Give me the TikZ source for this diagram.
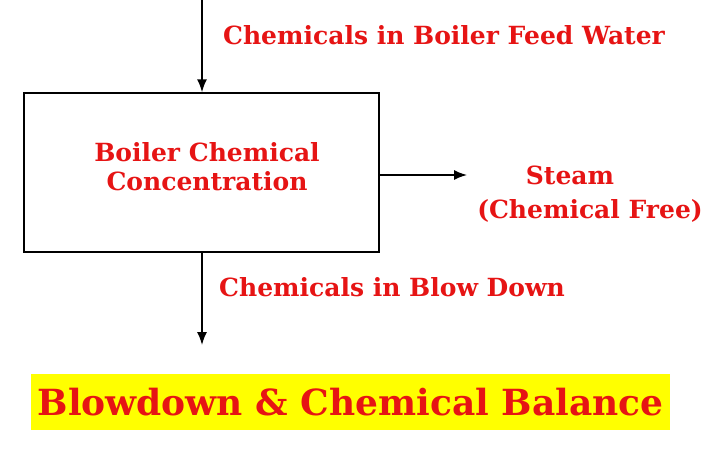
\documentclass[tikz,border=0pt]{standalone}
\usepackage{fontspec}
\setmainfont{DejaVu Serif}
\usetikzlibrary{positioning,arrows.meta}
\definecolor{txtred}{RGB}{230,20,20}
\definecolor{banner}{RGB}{255,255,0}
\tikzset{label text/.style={text=txtred, font=\bfseries\fontsize{25}{29}\selectfont, align=center, inner sep=0pt},
flow/.style={-{Latex[length=13pt,width=10pt]}, line width=1.5pt}}
\begin{document}
\begin{tikzpicture}[x=1pt,y=-1pt]
\useasboundingbox (0,0) rectangle (720,460);
% boiler
\node[draw, line width=1.5pt, minimum width=355pt, minimum height=159pt, inner sep=0pt] (boiler) at (201.5,172.5) {};
\node[label text] (conc) at (207,167) {Boiler Chemical\\Concentration};
% streams
\coordinate (feed) at (202,0);
\coordinate (blow) at (202,345);
\coordinate (steamend) at (467,175);
\draw[flow] (feed) -- (boiler.north -| feed);
\draw[flow] (boiler.south -| blow) -- (blow);
\draw[flow] (boiler.east |- steamend) -- (steamend);
% labels
\node[label text] (feedlbl) at (444,35) {Chemicals in Boiler Feed Water};
\node[label text] (steam) at (570,175) {Steam};
\node[label text] (free) at (590,211) {(Chemical Free)};
\node[label text] (blowlbl) at (392,287) {Chemicals in Blow Down};
% title
\node[fill=banner, minimum width=639pt, minimum height=56pt, inner sep=0pt, text=txtred, font=\bfseries\fontsize{36}{40}\selectfont] (title) at (350.5,402) {Blowdown \& Chemical Balance};
\end{tikzpicture}
\end{document}
